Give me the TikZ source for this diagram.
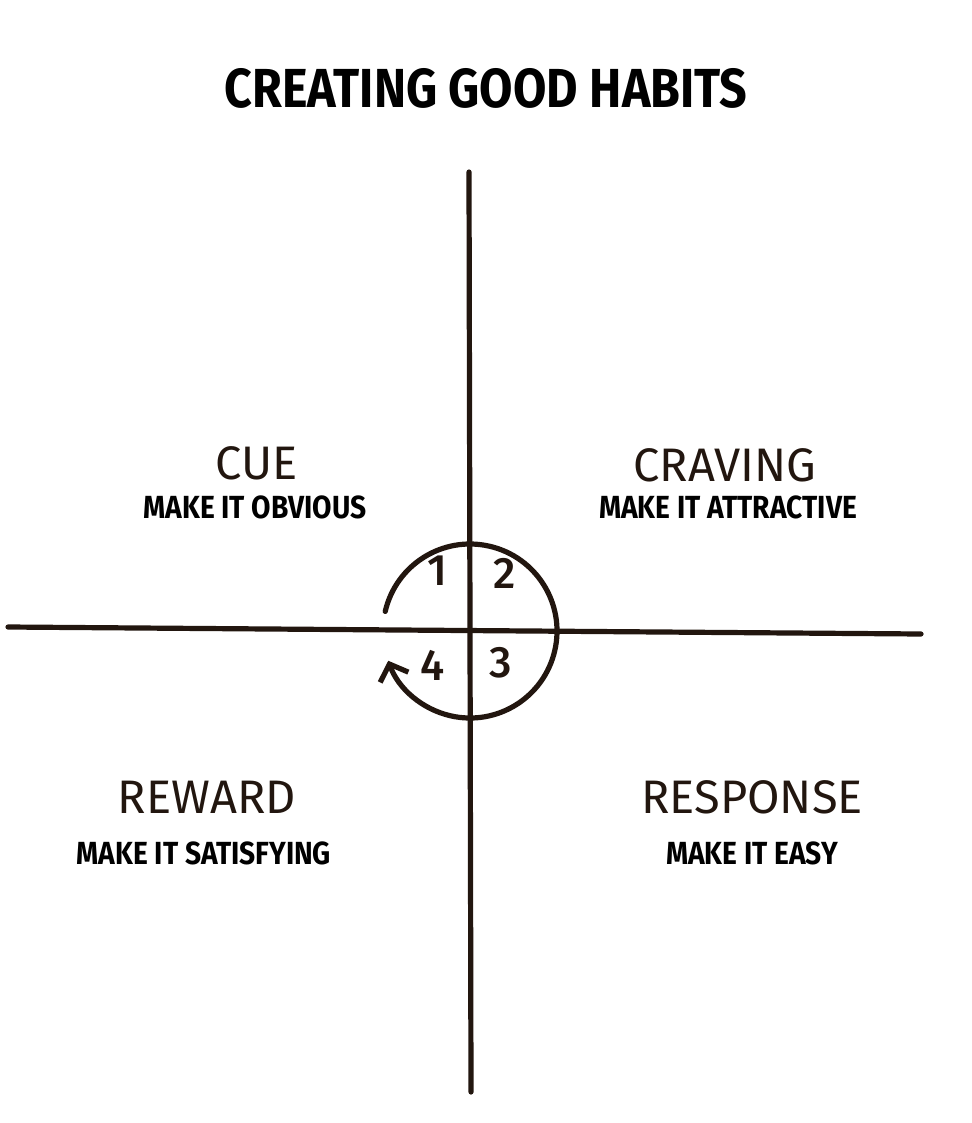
\documentclass[tikz,border=0pt]{standalone}
\usepackage{fontspec}
\usetikzlibrary{arrows.meta}
\setmainfont{Fira Sans}
\newfontfamily\marker[FakeStretch=0.88]{Fira Sans}
\newfontfamily\pen{Fira Sans}
\newfontfamily\digit{Fira Sans Medium}
\definecolor{ink}{HTML}{22160F}
\begin{document}
\begin{tikzpicture}[
    x=0.5pt, y=-0.5pt,
    axis/.style={
        draw=ink,
        line width=2.6pt,
        line cap=round
    },
    heading/.style={
        text=ink,
        font=\pen\fontsize{23.5}{26}\selectfont
    },
    hint/.style={
        text=black,
        font=\marker\bfseries\fontsize{16}{18}\selectfont
    },
    number/.style={
        text=ink,
        font=\digit\fontsize{22}{24}\selectfont
    }
]
\useasboundingbox (0,0) rectangle (971,1123);

\node[font=\marker\bfseries\fontsize{27.5}{30}\selectfont] (title) at (486,88) {CREATING GOOD HABITS};

% axes
\coordinate (top) at (469,172);
\coordinate (bottom) at (471,1092);
\coordinate (left) at (8,627);
\coordinate (right) at (921,634);
\draw[axis] (top) -- (bottom);
\draw[axis] (left) -- (right);

% loop round the centre
\coordinate (centre) at (470,631);
\draw[axis, -{Straight Barb[length=7pt,width=15pt]}] (centre) ++(193:87) arc[start angle=193, end angle=520, radius=87];

\node[number] (one) at (437,571) {1};
\node[number] (two) at (505,573) {2};
\node[number] (three) at (501,663) {3};
\node[number] (four) at (433,665) {4};

\node[heading] (cue) at (257,463) {CUE};
\node[hint] (cuehint) at (255,507) {MAKE IT OBVIOUS};
\node[heading] (craving) at (725,465) {CRAVING};
\node[hint] (cravinghint) at (728,507) {MAKE IT ATTRACTIVE};
\node[heading] (reward) at (207,797) {REWARD};
\node[hint] (rewardhint) at (204,853) {MAKE IT SATISFYING};
\node[heading] (response) at (752,797) {RESPONSE};
\node[hint] (responsehint) at (752,853) {MAKE IT EASY};

\end{tikzpicture}
\end{document}
